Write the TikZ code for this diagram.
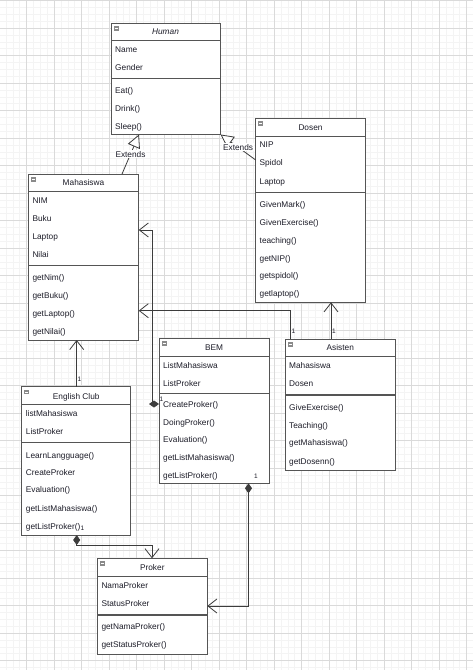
\documentclass[tikz,border=0pt]{standalone}
\usepackage{fontspec}
\setmainfont{Liberation Sans}
\usetikzlibrary{arrows.meta,fit,calc}
\definecolor{gmin}{HTML}{F4F4F4}
\definecolor{gmaj}{HTML}{DADADA}
\definecolor{bord}{HTML}{555555}
\definecolor{conn}{HTML}{3C3C3C}
\definecolor{txt}{HTML}{1C1C28}
\definecolor{iconc}{HTML}{8A8A8A}
\tikzset{
  cls/.style={draw=bord, fill=white, line width=0.8pt, inner sep=0pt, outer sep=0pt},
  attr/.style={anchor=west, inner sep=0pt, text height=6pt, text depth=0pt, font=\fontsize{8.3}{10}\selectfont, text=txt},
  ttl/.style={attr, anchor=center},
  sepline/.style={draw=bord, line width=0.8pt},
  dsepline/.style={draw=bord, line width=1.4pt},
  conline/.style={draw=conn, line width=0.8pt},
  gen/.style={conline, -{Triangle[length=13pt,width=13pt,fill=white]}},
  oarr/.style={conline, -{Straight Barb[length=9pt,width=14pt]}},
  dia/.style={conline, {Diamond[length=10pt,width=7pt]}-{Straight Barb[length=9pt,width=14pt]}},
  extlbl/.style={fill=white, inner sep=1pt, font=\fontsize{8.3}{10}\selectfont, text=txt},
  mult/.style={inner sep=0pt, font=\fontsize{6.5}{8}\selectfont, text=txt},
}
\newcommand\mkcls[7]{%
  \node[cls, fit={(#2,#3) (#4,#5)}] (#1) {};
  \draw[sepline] (#1.west |- 0,#6) -- (#1.east |- 0,#6);
  \draw[dsepline] (#1.west |- 0,#7) -- (#1.east |- 0,#7);
  \fill[iconc] ($(#1.north west)+(2.5,3)$) rectangle ++(5,4.5);
  \draw[white, line width=0.6pt] ($(#1.north west)+(3.5,5.25)$) -- ++(3,0);
}
\begin{document}
\begin{tikzpicture}[x=1pt,y=-1pt]
\useasboundingbox (0,0) rectangle (473,670);
\fill[white] (0,0) rectangle (473,670);
% grid
\foreach \k in {0,...,69}{\pgfmathsetmacro\xx{-0.7+6.875*\k}\draw[gmin, line width=1pt] (\xx,0) -- (\xx,670);}
\foreach \k in {0,...,97}{\pgfmathsetmacro\yy{0.8+6.875*\k}\draw[gmin, line width=1pt] (0,\yy) -- (473,\yy);}
\foreach \k in {0,...,17}{\pgfmathsetmacro\xx{-0.7+27.5*\k}\draw[gmaj, line width=0.7pt] (\xx,0) -- (\xx,670);}
\foreach \k in {0,...,24}{\pgfmathsetmacro\yy{0.8+27.5*\k}\draw[gmaj, line width=0.7pt] (0,\yy) -- (473,\yy);}

% Human
\mkcls{hum}{111}{23}{220.5}{134.5}{40}{78.3}
\node[ttl] (hum-t) at (165.5,31.5) {\textit{Human}};
\node[attr] (hum-a1) at (115,49) {Name};
\node[attr] (hum-a2) at (115,67) {Gender};
\node[attr] (hum-m1) at (115,90.7) {Eat()};
\node[attr] (hum-m2) at (115,108.5) {Drink()};
\node[attr] (hum-m3) at (115,126) {Sleep()};

% Dosen
\mkcls{dos}{255.7}{118.3}{365.3}{302.3}{136}{192.7}
\node[ttl] (dos-t) at (310.5,127.3) {Dosen};
\node[attr] (dos-a1) at (259.5,144.7) {NIP};
\node[attr] (dos-a2) at (259.5,162.7) {Spidol};
\node[attr] (dos-a3) at (259.5,181) {Laptop};
\node[attr] (dos-m1) at (259.5,204.3) {GivenMark()};
\node[attr] (dos-m2) at (259.5,222.3) {GivenExercise()};
\node[attr] (dos-m3) at (259.5,240) {teaching()};
\node[attr] (dos-m4) at (259.5,258) {getNIP()};
\node[attr] (dos-m5) at (259.5,275.7) {getspidol()};
\node[attr] (dos-m6) at (259.5,293.7) {getlaptop()};

% Mahasiswa
\mkcls{mah}{28.3}{174}{138.7}{340}{191}{265.7}
\node[ttl] (mah-t) at (83.5,182.7) {Mahasiswa};
\node[attr] (mah-a1) at (32.3,200) {NIM};
\node[attr] (mah-a2) at (32.3,218.3) {Buku};
\node[attr] (mah-a3) at (32.3,236.3) {Laptop};
\node[attr] (mah-a4) at (32.3,254) {Nilai};
\node[attr] (mah-m1) at (32.3,277.7) {getNim()};
\node[attr] (mah-m2) at (32.3,295.7) {getBuku()};
\node[attr] (mah-m3) at (32.3,313.7) {getLaptop()};
\node[attr] (mah-m4) at (32.3,331.7) {getNilai()};

% BEM
\mkcls{bem}{159}{338.3}{269}{483.3}{356}{393.7}
\node[ttl] (bem-t) at (214,347) {BEM};
\node[attr] (bem-a1) at (163,365) {ListMahasiswa};
\node[attr] (bem-a2) at (163,383.3) {ListProker};
\node[attr] (bem-m1) at (163,404.7) {CreateProker()};
\node[attr] (bem-m2) at (163,422.3) {DoingProker()};
\node[attr] (bem-m3) at (163,439.3) {Evaluation()};
\node[attr] (bem-m4) at (163,457.3) {getListMahasiswa()};
\node[attr] (bem-m5) at (163,475) {getListProker()};

% Asisten
\mkcls{asi}{285}{339}{395.7}{470}{356.7}{395}
\node[ttl] (asi-t) at (340.3,347.3) {Asisten};
\node[attr] (asi-a1) at (289,365) {Mahasiswa};
\node[attr] (asi-a2) at (289,383) {Dosen};
\node[attr] (asi-m1) at (289,407) {GiveExercise()};
\node[attr] (asi-m2) at (289,425.3) {Teaching()};
\node[attr] (asi-m3) at (289,442.7) {getMahasiswa()};
\node[attr] (asi-m4) at (289,461) {getDosenn()};

% English Club
\mkcls{eng}{21.7}{386.7}{130.7}{535}{404}{442.7}
\node[ttl] (eng-t) at (76.2,396) {English Club};
\node[attr] (eng-a1) at (25.7,413.3) {listMahasiswa};
\node[attr] (eng-a2) at (25.7,431) {ListProker};
\node[attr] (eng-m1) at (25.7,455) {LearnLangguage()};
\node[attr] (eng-m2) at (25.7,472.3) {CreateProker};
\node[attr] (eng-m3) at (25.7,489.7) {Evaluation()};
\node[attr] (eng-m4) at (25.7,508) {getListMahasiswa()};
\node[attr] (eng-m5) at (25.7,526) {getListProker()};

% Proker
\mkcls{pro}{97.3}{558.3}{207.3}{654}{576.7}{615}
\node[ttl] (pro-t) at (152.3,567.4) {Proker};
\node[attr] (pro-a1) at (101.3,585.3) {NamaProker};
\node[attr] (pro-a2) at (101.3,603.3) {StatusProker};
\node[attr] (pro-m1) at (101.3,626.7) {getNamaProker()};
\node[attr] (pro-m2) at (101.3,644.7) {getStatusProker()};

% connectors
\draw[gen] (mah.north -| 122,0) -- node[extlbl, midway] (ext1) {Extends} (hum.south -| 139,0);
\draw[gen] (dos.west |- 0,160) -- node[extlbl, midway] (ext2) {Extends} (hum.south east);
\draw[oarr] (asi.north -| 331,0) -- (dos.south -| 331,0);
\draw[oarr] (asi.north -| 290,0) |- (mah.east |- 0,310.7);
\draw[dia] (bem.west |- 0,404) -- ++(-7,0) |- (mah.east |- 0,230);
\draw[oarr] (eng.north -| 76.7,0) -- (mah.south -| 76.7,0);
\draw[dia] (eng.south -| 76.7,0) -- ++(0,10.5) -| (pro.north -| 152,0);
\draw[dia] (bem.south -| 248.5,0) |- (pro.east |- 0,606);

% multiplicities
\node[mult] (mu1) at (293.5,331.5) {1};
\node[mult] (mu2) at (334,331.5) {1};
\node[mult] (mu3) at (79.5,379.5) {1};
\node[mult] (mu4) at (161.5,399) {1};
\node[mult] (mu5) at (256,476.5) {1};
\node[mult] (mu6) at (82.5,528) {1};
\end{tikzpicture}
\end{document}
